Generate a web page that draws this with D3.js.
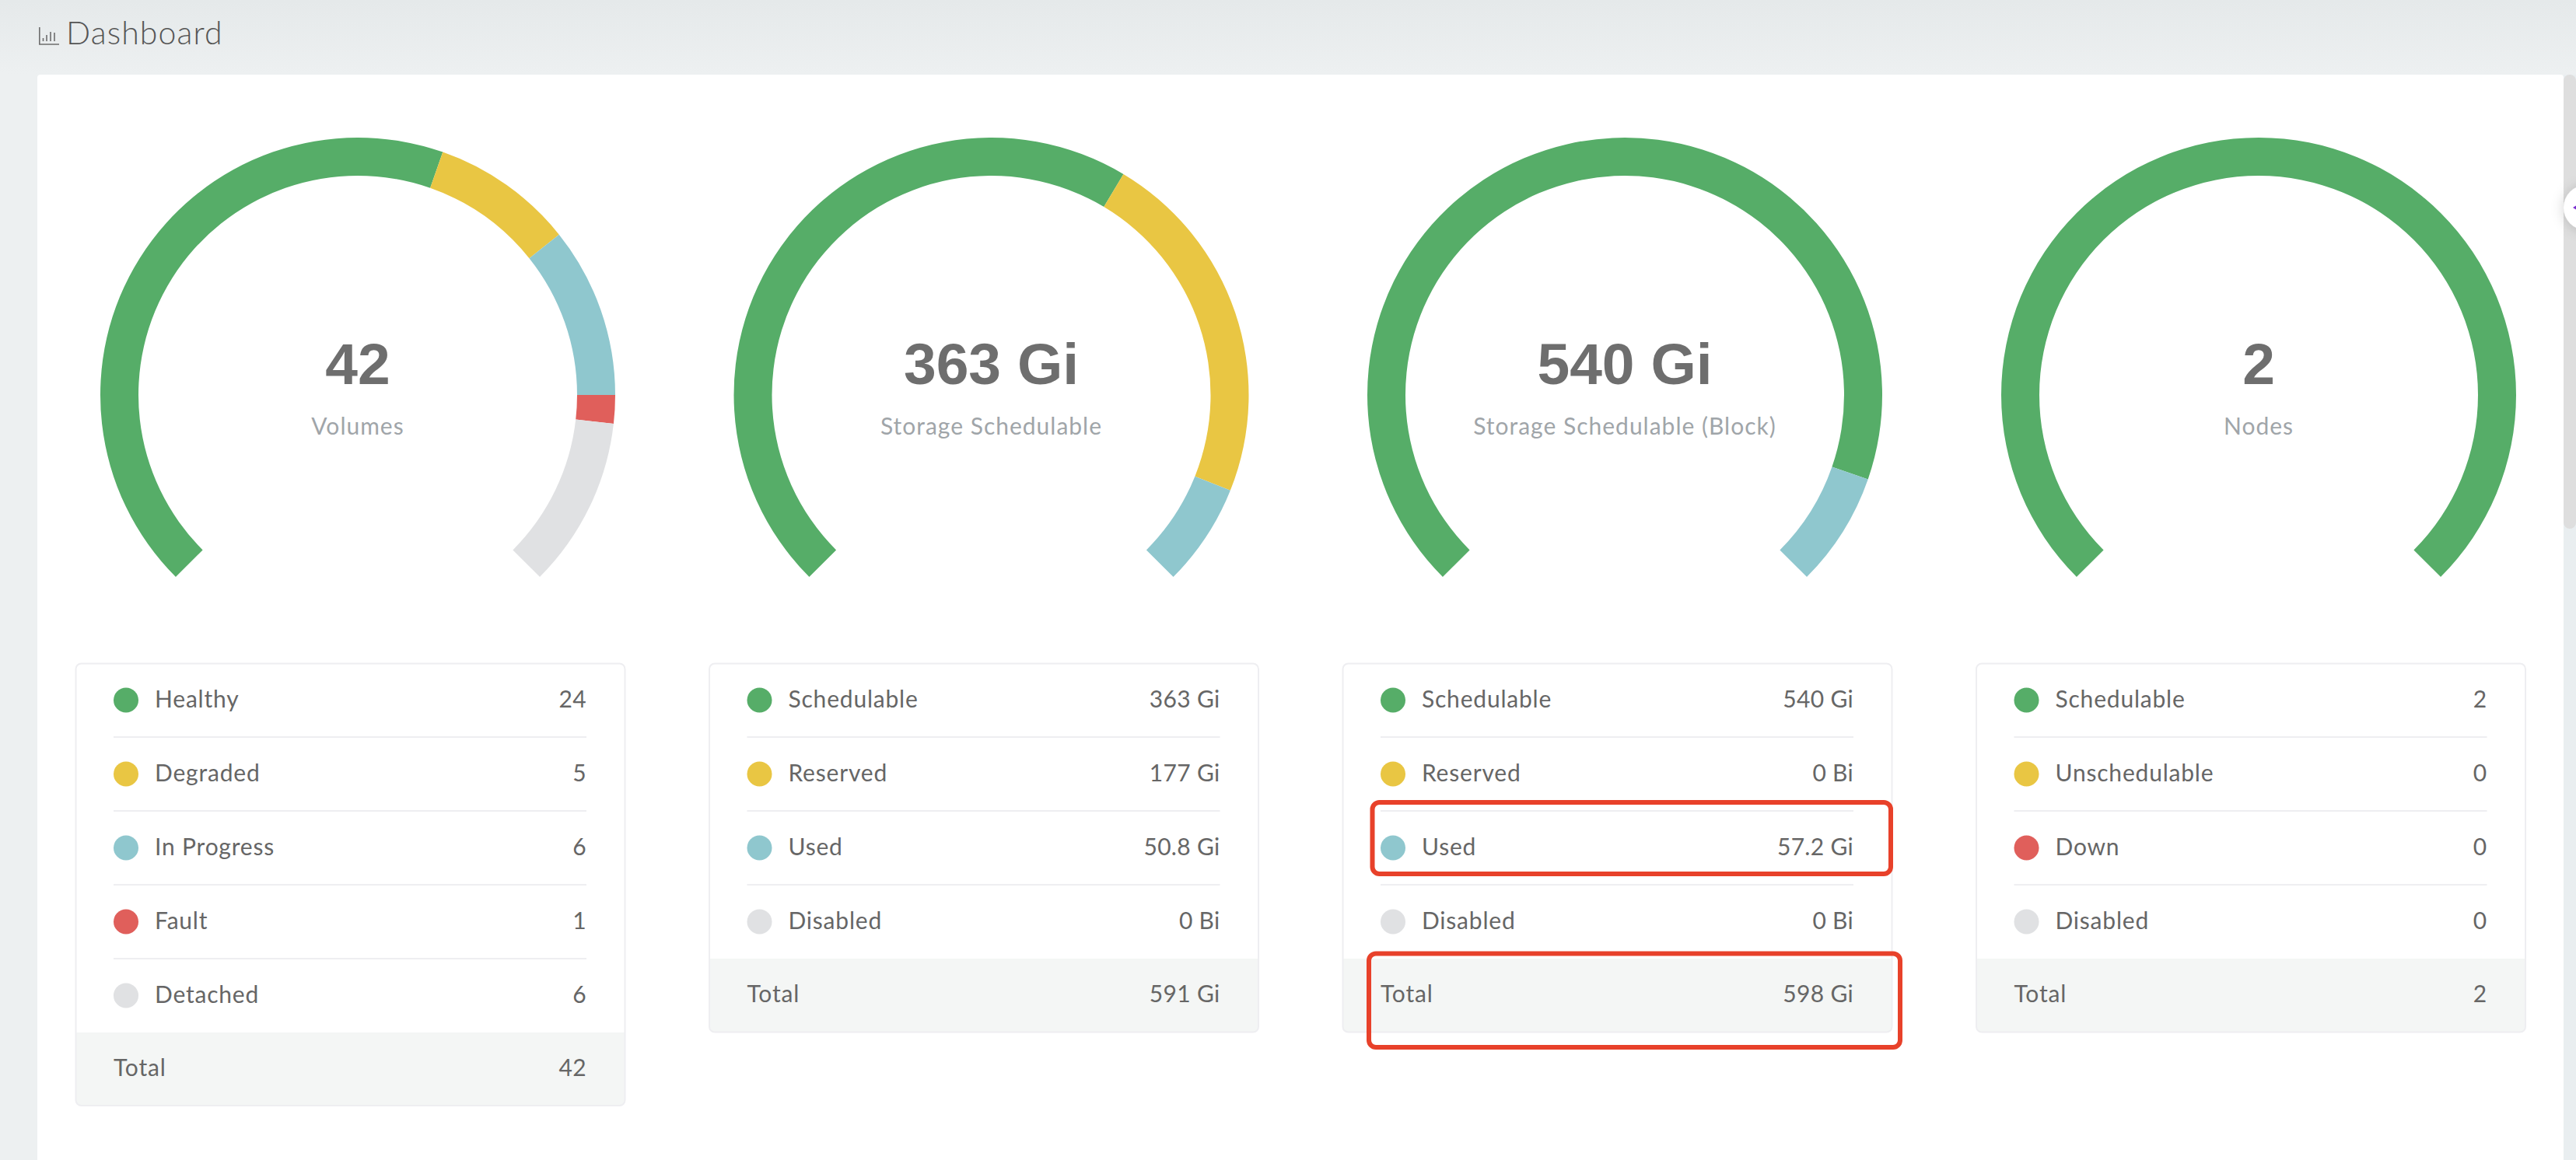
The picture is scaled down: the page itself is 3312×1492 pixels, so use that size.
<!DOCTYPE html>
<html><head><meta charset="utf-8">
<script src="https://cdn.jsdelivr.net/npm/d3@7"></script>
<style>html,body{margin:0;padding:0;overflow:hidden;background:#edf0f1}svg{display:block}text{font-family:Lato,sans-serif}</style>
</head><body>
<svg id="c" width="3312" height="1492"></svg>
<script>
const volumeLabels=["Healthy","Degraded","In Progress","Fault","Detached"];
const volumeValues=[24,5,6,1,6];
const volumeText=["24","5","6","1","6"];
const storageLabels=["Schedulable","Reserved","Used","Disabled"];
const storageValues=[363,177,50.8,0];
const storageText=["363 Gi","177 Gi","50.8 Gi","0 Bi"];
const blockLabels=["Schedulable","Reserved","Used","Disabled"];
const blockValues=[540,0,57.2,0];
const blockText=["540 Gi","0 Bi","57.2 Gi","0 Bi"];
const nodeLabels=["Schedulable","Unschedulable","Down","Disabled"];
const nodeValues=[2,0,0,0];
const nodeText=["2","0","0","0"];
const green="#56ad68",yellow="#e9c643",teal="#8fc7ce",red="#e05f5b",grey="#e0e1e3";
const gauges=[
 {big:"42",title:"Volumes",labels:volumeLabels,values:volumeValues,text:volumeText,colors:[green,yellow,teal,red,grey],total:"42"},
 {big:"363 Gi",title:"Storage Schedulable",labels:storageLabels,values:storageValues,text:storageText,colors:[green,yellow,teal,grey],total:"591 Gi"},
 {big:"540 Gi",title:"Storage Schedulable (Block)",labels:blockLabels,values:blockValues,text:blockText,colors:[green,yellow,teal,grey],total:"598 Gi"},
 {big:"2",title:"Nodes",labels:nodeLabels,values:nodeValues,text:nodeText,colors:[green,yellow,red,grey],total:"2"}
];
const W=3312,H=1492;
const svg=d3.select("#c");
const defs=svg.append("defs");
const g0=defs.append("linearGradient").attr("id","bg").attr("x1",0).attr("x2",0).attr("y1",0).attr("y2",1);
g0.append("stop").attr("offset",0).attr("stop-color","#e5e9ea");
g0.append("stop").attr("offset",1).attr("stop-color","#edf0f1");
const sh=defs.append("filter").attr("id","sh").attr("x","-60%").attr("y","-60%").attr("width","220%").attr("height","220%");
sh.append("feDropShadow").attr("dx",-1).attr("dy",1).attr("stdDeviation",8).attr("flood-color","#000").attr("flood-opacity",.16);
svg.append("rect").attr("width",W).attr("height",H).attr("fill","#edf0f1");
svg.append("rect").attr("width",W).attr("height",96).attr("fill","url(#bg)");
// header
const ic=svg.append("g").attr("fill","none").attr("stroke","#6d6d6d").attr("stroke-width",1.6);
ic.append("path").attr("d","M50.8 35V57H76");
[[55.5,53,49],[60,53,45],[65,53,41],[70,53,42]].forEach(a=>ic.append("line").attr("x1",a[0]).attr("x2",a[0]).attr("y1",a[1]).attr("y2",a[2]));
svg.append("text").attr("x",85).attr("y",57).attr("font-size",41).attr("font-weight",300).attr("letter-spacing",1.1).attr("fill","#555").text("Dashboard");
// panel
svg.append("rect").attr("x",48).attr("y",96).attr("width",3248).attr("height",H).attr("rx",4).attr("fill","#fff");
// scrollbar
svg.append("rect").attr("x",3296).attr("y",96).attr("width",16).attr("height",H-96).attr("fill","#e9eef0");
svg.append("rect").attr("x",3296).attr("y",96).attr("width",16).attr("height",584).attr("rx",8).attr("fill","#dedede");
svg.append("circle").attr("cx",3325).attr("cy",267).attr("r",29).attr("fill","#fff").attr("filter","url(#sh)");
svg.append("path").attr("d","M3308 267l5-3v6z").attr("fill","#7a2fd0");

const angle=d3.scaleLinear().domain([0,1]).range([-3*Math.PI/4,3*Math.PI/4]);
const arc=d3.arc().innerRadius(282).outerRadius(331);
const cardX=[97,911.5,1726,2540.5],cardW=707,cy=508,cxs=[460,1274.5,2089,2904];
gauges.forEach((d,i)=>{
  const g=svg.append("g").attr("transform",`translate(${cxs[i]},${cy})`);
  const pie=d3.pie().sort(null).startAngle(angle(0)).endAngle(angle(1));
  g.selectAll("path").data(pie(d.values).map((s,k)=>({...s,color:d.colors[k]}))).join("path")
    .attr("d",arc).attr("fill",s=>s.color).attr("shape-rendering","geometricPrecision");
  g.append("text").attr("text-anchor","middle").attr("y",-14).attr("font-size",75).attr("font-weight",700)
    .attr("fill","#6e6e6e").style("font-family","'Liberation Sans',sans-serif").text(d.big);
  g.append("text").attr("text-anchor","middle").attr("y",51).attr("font-size",30).attr("font-weight",400)
    .attr("letter-spacing",1).attr("fill","#a0a5a9").text(d.title);
  // card
  const n=d.labels.length,rowH=95,top=853;
  const h=n*rowH+rowH+(n===5?-0.5:0);
  const c=svg.append("g").attr("transform",`translate(${cardX[i]},${top})`);
  const clip="card"+i;
  defs.append("clipPath").attr("id",clip).append("rect").attr("width",cardW).attr("height",h).attr("rx",7);
  c.append("rect").attr("y",n*rowH).attr("width",cardW).attr("height",rowH).attr("fill","#f4f6f5").attr("clip-path",`url(#${clip})`);
  c.append("rect").attr("x",.5).attr("y",.5).attr("width",cardW-1).attr("height",h-1).attr("rx",7).attr("fill","none").attr("stroke","#eeeef1").attr("stroke-width",2);
  const rows=c.selectAll("g.r").data(d.labels).join("g").attr("class","r").attr("transform",(_,k)=>`translate(0,${k*rowH})`);
  rows.append("circle").attr("cx",65).attr("cy",47.5).attr("r",16).attr("fill",(_,k)=>d.colors[k]);
  rows.append("text").attr("x",102).attr("y",57).attr("font-size",30).attr("letter-spacing",.8).attr("fill","#666").text(l=>l);
  rows.append("text").attr("x",657).attr("y",57).attr("text-anchor","end").attr("font-size",30).attr("letter-spacing",.3).attr("fill","#666").text((_,k)=>d.text[k]);
  rows.filter((_,k)=>k<n-1).append("line").attr("x1",49).attr("x2",657).attr("y1",95).attr("y2",95).attr("stroke","#eeeef1").attr("stroke-width",2);
  c.append("text").attr("x",49).attr("y",n*rowH+56).attr("font-size",30).attr("letter-spacing",.8).attr("fill","#666").text("Total");
  c.append("text").attr("x",657).attr("y",n*rowH+56).attr("text-anchor","end").attr("font-size",30).attr("letter-spacing",.3).attr("fill","#666").text(d.total);
});
// annotation boxes
[[1764.5,1032,666.5,92],[1760,1226.5,683,120.5]].forEach(b=>{
  svg.append("rect").attr("x",b[0]).attr("y",b[1]).attr("width",b[2]).attr("height",b[3]).attr("rx",9).attr("fill","none").attr("stroke","#e8412a").attr("stroke-width",6);
});
</script>
</body></html>
